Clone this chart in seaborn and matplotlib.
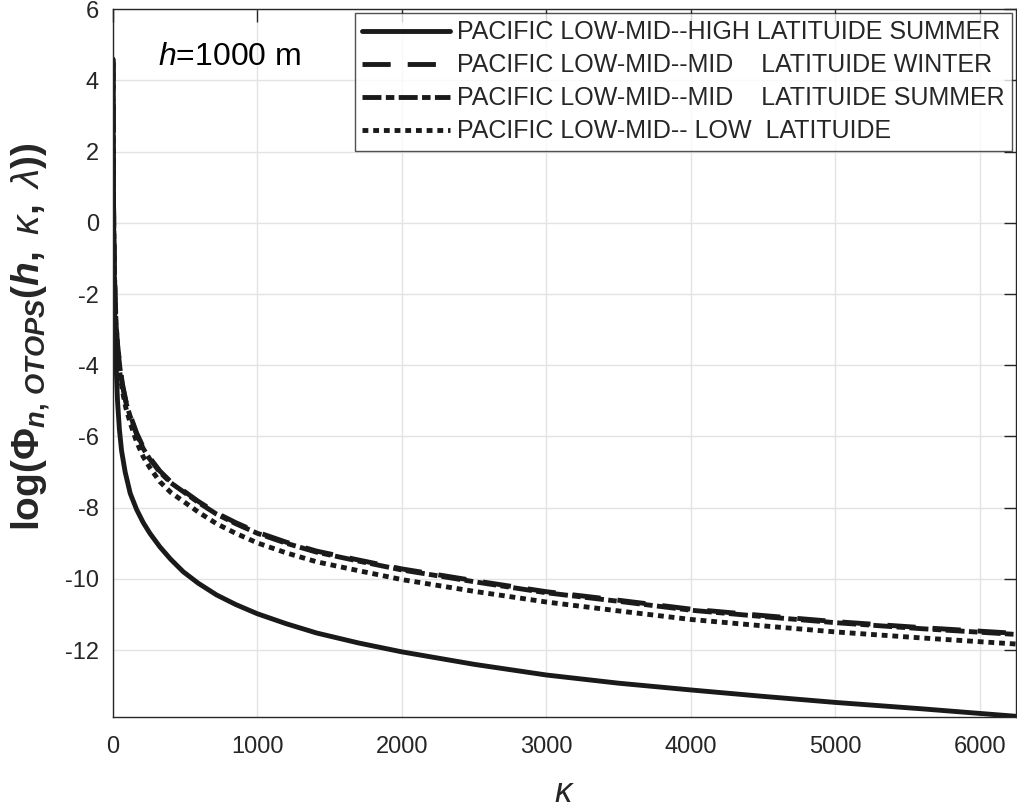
import numpy as np
import pandas as pd
import matplotlib
matplotlib.use("Agg")
import matplotlib.pyplot as plt
import seaborn as sns

# values
k_high = [1, 3, 6, 10, 15, 22, 32, 45, 60, 85, 120, 164, 210, 256, 325, 400, 487, 590, 717,
          850, 1000, 1200, 1410, 1700, 2000, 2500, 3000, 3500, 4000, 4500, 5000, 5600, 6250]
v_high = [4.6, 1.5, -0.5, -2.0, -3.0, -4.0, -5.0, -5.8, -6.4, -7.0, -7.6, -8.05, -8.42, -8.72,
          -9.1, -9.45, -9.8, -10.12, -10.45, -10.72, -10.98, -11.26, -11.52, -11.8, -12.05,
          -12.4, -12.7, -12.93, -13.12, -13.3, -13.47, -13.65, -13.86]

k_mid = [1, 3, 6, 10, 15, 22, 32, 48, 65, 90, 120, 164, 210, 256, 325, 400, 487, 590, 717,
         850, 1000, 1200, 1410, 1700, 2000, 2500, 3000, 3500, 4000, 4500, 5000, 5600, 6250]
v_mid_winter = [4.6, 1.3, 0.0, -1.2, -2.0, -2.8, -3.4, -4.0, -4.5, -5.0, -5.4, -5.9, -6.3,
                -6.6, -6.97, -7.27, -7.52, -7.82, -8.15, -8.42, -8.69, -8.97, -9.22, -9.47,
                -9.72, -10.05, -10.36, -10.6, -10.85, -11.03, -11.2, -11.37, -11.53]
v_mid_summer = [4.5, 1.25, -0.05, -1.25, -2.05, -2.85, -3.45, -4.05, -4.55, -5.04, -5.44,
                -5.94, -6.34, -6.64, -7.0, -7.3, -7.55, -7.85, -8.18, -8.45, -8.72, -9.0,
                -9.25, -9.5, -9.75, -10.08, -10.39, -10.63, -10.88, -11.06, -11.23, -11.4,
                -11.56]
v_low = [4.5, 1.1, -0.2, -1.4, -2.2, -3.0, -3.6, -4.2, -4.7, -5.2, -5.62, -6.15, -6.57,
         -6.88, -7.27, -7.57, -7.82, -8.12, -8.45, -8.72, -8.99, -9.27, -9.52, -9.77,
         -10.02, -10.35, -10.65, -10.9, -11.14, -11.32, -11.49, -11.66, -11.83]

names = ["PACIFIC LOW-MID--HIGH LATITUIDE SUMMER",
         "PACIFIC LOW-MID--MID    LATITUIDE WINTER",
         "PACIFIC LOW-MID--MID    LATITUIDE SUMMER",
         "PACIFIC LOW-MID-- LOW  LATITUIDE"]

x_ticks = [0, 1000, 2000, 3000, 4000, 5000, 6000]
y_ticks = [-12, -10, -8, -6, -4, -2, 0, 2, 4, 6]

frames = []
for name, k, v in zip(names, [k_high, k_mid, k_mid, k_mid],
                      [v_high, v_mid_winter, v_mid_summer, v_low]):
    frames.append(pd.DataFrame({"kappa": k, "val": v, "series": name}))
df = pd.concat(frames, ignore_index=True)

sns.set_style("white")
plt.rcParams["font.family"] = ["Liberation Sans", "DejaVu Sans"]
plt.rcParams["mathtext.fontset"] = "custom"
plt.rcParams["mathtext.rm"] = "Liberation Sans:bold"
plt.rcParams["mathtext.it"] = "Liberation Sans:italic:bold"
plt.rcParams["mathtext.bf"] = "Liberation Sans:bold"
plt.rcParams["mathtext.sf"] = "Liberation Sans:italic"

axcol = "#262626"
fig = plt.figure(figsize=(10.17, 8.08), dpi=100)
ax = fig.add_axes([0.111, 0.1126, 0.888, 0.876])

dash_map = {names[0]: "",
            names[1]: (5.8, 3.5),
            names[2]: (3.9, 0.9, 1.75, 0.9),
            names[3]: (1.2, 1.0)}
sns.lineplot(data=df, x="kappa", y="val", style="series", dashes=dash_map,
             color="#1a1a1a", linewidth=3.5, sort=False, estimator=None,
             legend=False, ax=ax)

ax.set_xlim(0, 6250)
ax.set_ylim(-13.88, 6)
ax.set_xticks(x_ticks)
ax.set_yticks(y_ticks)
ax.set_yticklabels([str(t) for t in y_ticks])
ax.grid(True, color="#e3e3e3", linewidth=1)
ax.set_axisbelow(True)
ax.tick_params(direction="in", length=9, width=1, colors=axcol, labelsize=17,
               top=True, right=True, pad=10)
ax.tick_params(axis="x", pad=14)
for s in ax.spines.values():
    s.set_color(axcol)
    s.set_linewidth(1)
    s.set_visible(True)

ax.set_xlabel(r"$\mathsf{\kappa}$", fontsize=25)
ax.xaxis.set_label_coords(0.5, -0.083)
ax.set_ylabel(r"log($\Phi_{n,\,OTOPS}(h,\;\mathsf{\kappa},\;\mathsf{\lambda})$)",
              fontsize=28, fontweight="bold")
ax.yaxis.set_label_coords(-0.066, 0.537)

ax.text(0.05, 0.932, r"$\mathsf{h}$=1000 m", transform=ax.transAxes, fontsize=23,
        va="center", ha="left", color="black")

leg = ax.legend(handles=ax.get_lines()[:4], labels=names, loc="upper right",
                fontsize=18, handlelength=3.5, handletextpad=0.3,
                borderaxespad=0.15, frameon=True, fancybox=False,
                edgecolor=axcol, borderpad=0.3, labelspacing=0.36)
leg.get_frame().set_linewidth(1)

fig.savefig("out.png", dpi=100)
